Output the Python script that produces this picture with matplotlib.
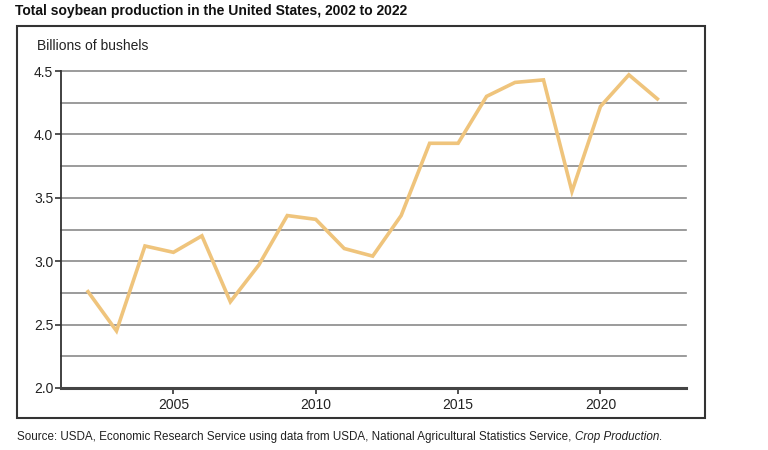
import matplotlib
matplotlib.use("Agg")
import matplotlib.pyplot as plt
from matplotlib.patches import Rectangle

years = list(range(2002, 2023))
production = [2.76, 2.45, 3.12, 3.07, 3.20, 2.68, 2.97, 3.36, 3.33, 3.10, 3.04,
              3.36, 3.93, 3.93, 4.30, 4.41, 4.43, 3.55, 4.22, 4.47, 4.28]
yticks = [2.0, 2.5, 3.0, 3.5, 4.0, 4.5]
ytick_labels = ["2.0", "2.5", "3.0", "3.5", "4.0", "4.5"]
xticks = [2005, 2010, 2015, 2020]

plt.rcParams['font.family'] = ['Liberation Sans', 'DejaVu Sans']

fig = plt.figure(figsize=(7.68, 4.5), dpi=100)
fig.patch.set_facecolor('white')

# outer frame
fig.patches.append(Rectangle((0.0215, 0.071), 0.896, 0.872, transform=fig.transFigure,
                             fill=False, edgecolor='#333333', linewidth=1.5))

ax = fig.add_axes([0.0794, 0.1378, 0.8136, 0.7044])
grid_vals = [2.25 + 0.25 * i for i in range(10)]
for g in grid_vals:
    ax.axhline(g, color='#8a8a8a', linewidth=1.2, zorder=1, clip_on=False)

ax.plot(years, production, color='#EFC47C', linewidth=2.6, zorder=3,
        solid_joinstyle='miter')

ax.set_xlim(2001.05, 2023.0)
ax.set_ylim(2.0, 4.5)
ax.set_yticks(yticks)
ax.set_yticklabels(ytick_labels)
ax.set_xticks(xticks)
ax.set_xticklabels([str(x) for x in xticks])

for s in ['top', 'right']:
    ax.spines[s].set_visible(False)
ax.spines['left'].set_color('#333333')
ax.spines['left'].set_linewidth(1.3)
ax.spines['bottom'].set_color('#444444')
ax.spines['bottom'].set_linewidth(2.2)
ax.spines['bottom'].set_zorder(4)
ax.tick_params(axis='y', length=4, width=1.2, color='#333333', labelsize=10, pad=1.5,
               labelcolor='#222222')
ax.tick_params(axis='x', length=4, width=1.2, color='#333333', labelsize=10, pad=3,
               labelcolor='#222222')

fig.text(0.0195, 0.976, "Total soybean production in the United States, 2002 to 2022",
         fontsize=10, fontweight='bold', ha='left', va='center', color='#111111')
fig.text(0.048, 0.898, "Billions of bushels", fontsize=10, ha='left', va='center',
         color='#222222')
fig.text(0.022, 0.029, "Source: USDA, Economic Research Service using data from USDA, National Agricultural Statistics Service, ",
         fontsize=8.4, ha='left', va='center', color='#222222')
t = fig.texts[-1]
fig.canvas.draw()
bb = t.get_window_extent()
fig.text(bb.x1 / fig.bbox.width, 0.029, "Crop Production", fontsize=8.4, style='italic',
         ha='left', va='center', color='#222222')
bb2 = fig.texts[-1].get_window_extent()
fig.text(bb2.x1 / fig.bbox.width, 0.029, ".", fontsize=8.4, ha='left', va='center',
         color='#222222')

fig.savefig("out.png", dpi=100)
